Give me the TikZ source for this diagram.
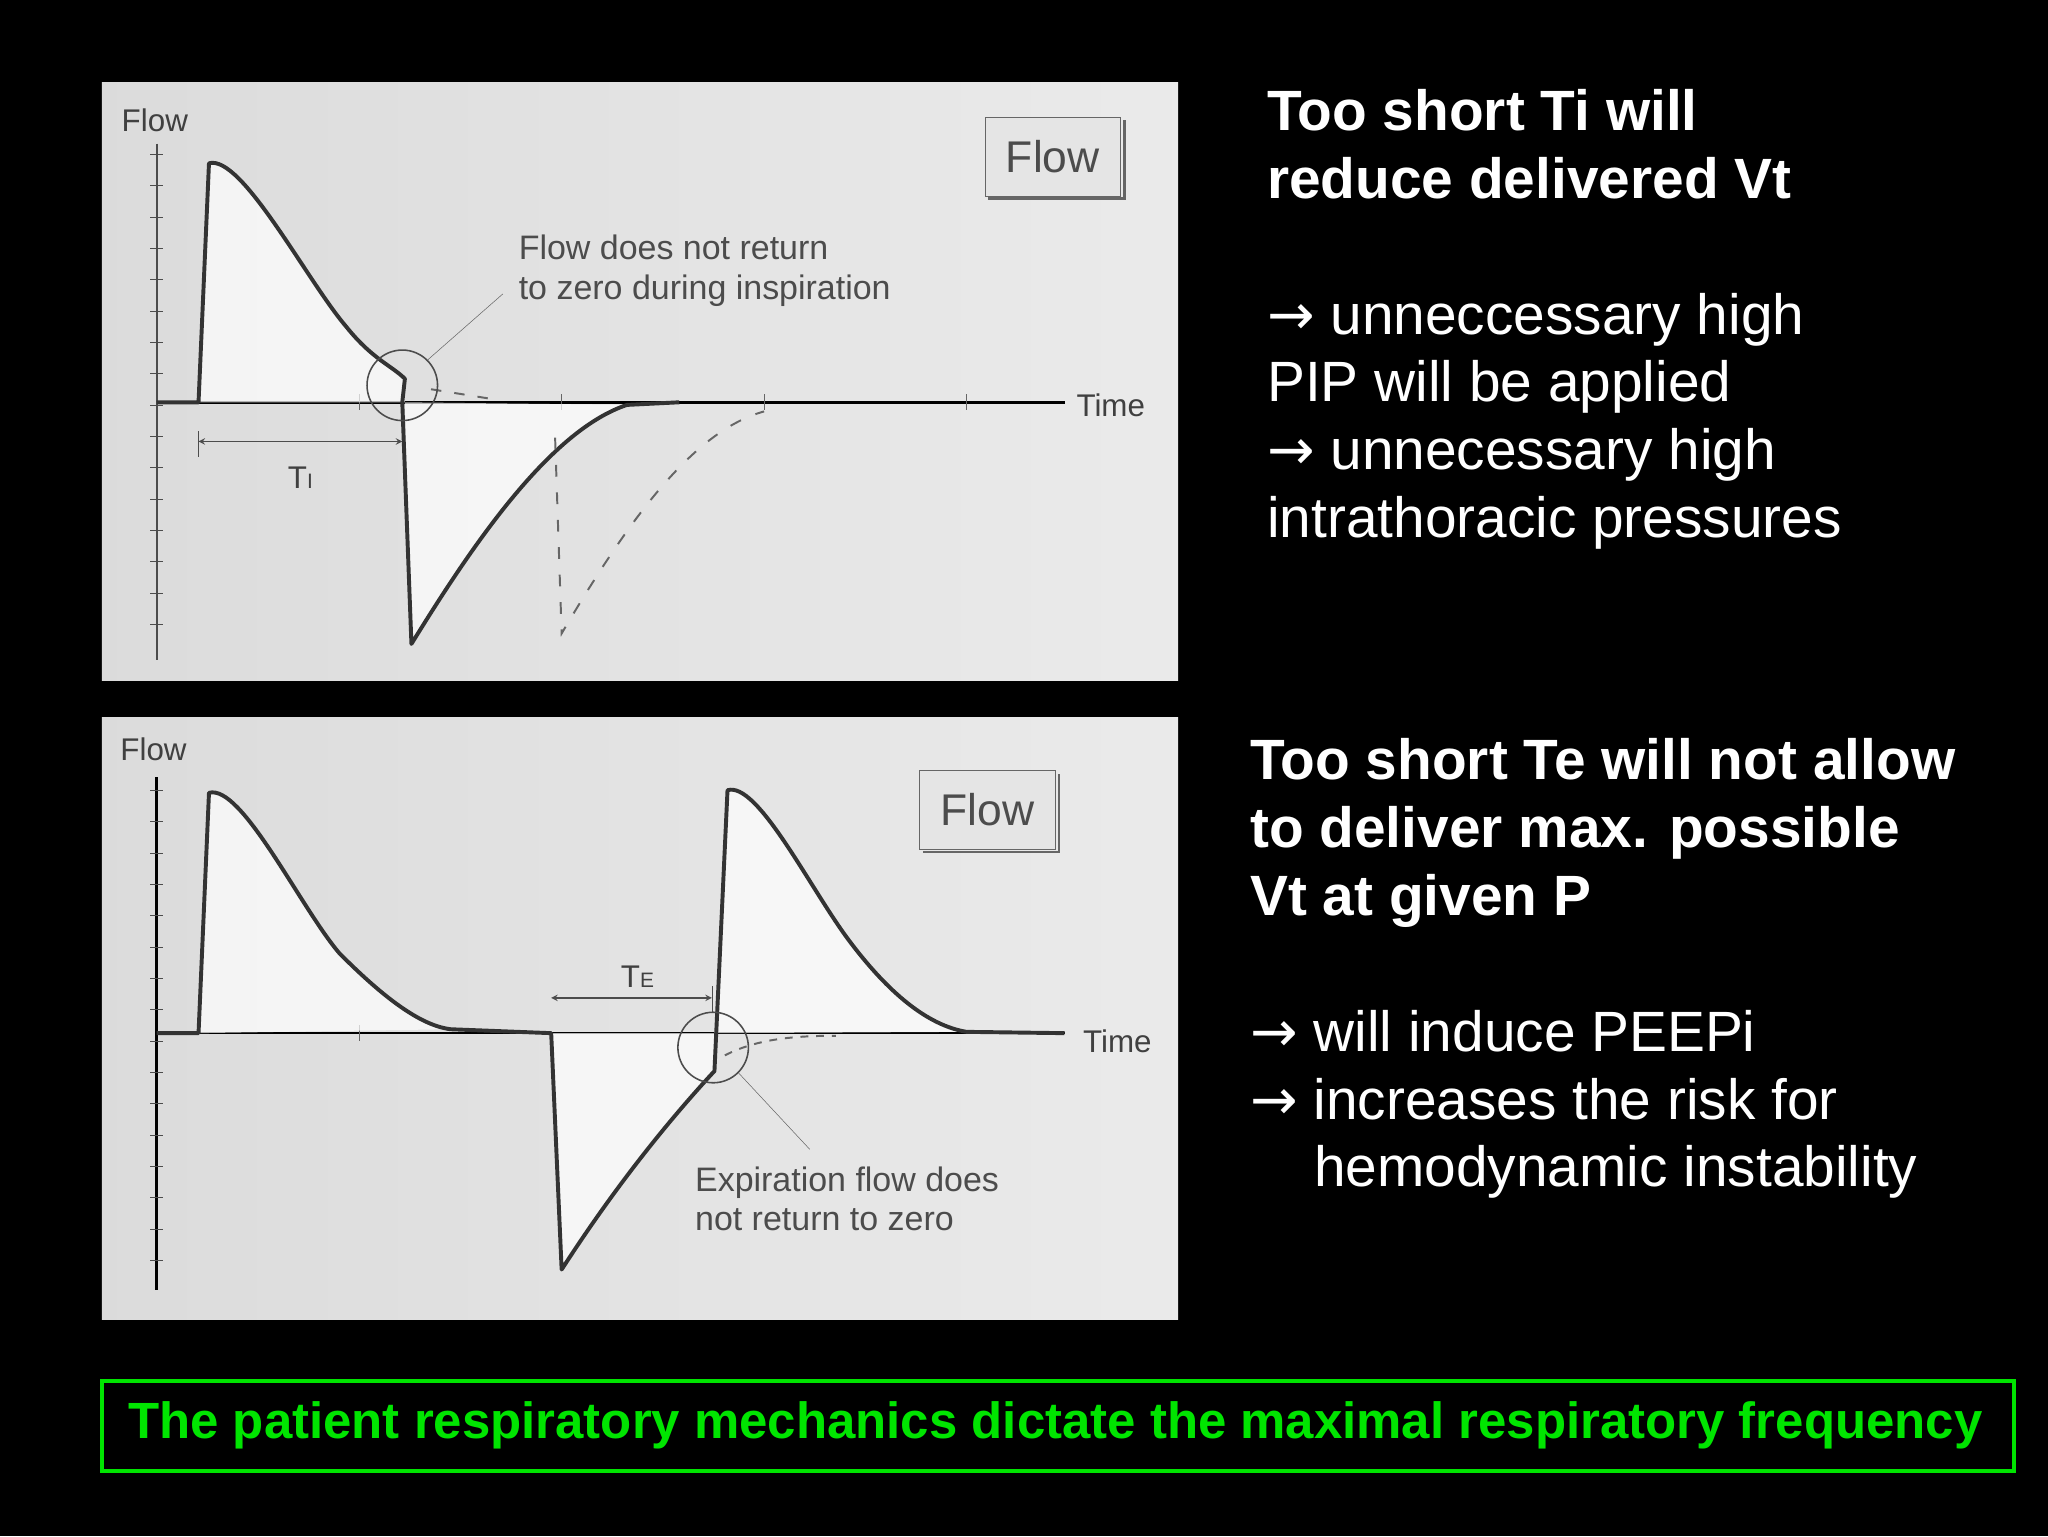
\documentclass[tikz,border=0pt]{standalone}
\usepackage{fontspec}
\setmainfont{Liberation Sans}
\newfontfamily\arr{DejaVu Sans}
\begin{document}
\begin{tikzpicture}[x=1pt,y=-1pt,
  panel/.style={left color=white!86!black, right color=white!92!black},
  curve/.style={line width=3pt, color=black!80, line join=round},
  lbl/.style={font=\fontsize{24}{28}\selectfont, text=black!75, inner sep=0, anchor=west},
  ann/.style={font=\fontsize{26}{30}\selectfont, text=black!70, inner sep=0, anchor=north west, align=left},
  big/.style={font=\bfseries\fontsize{43.5}{52}\selectfont, text=white, inner sep=0, anchor=north west, align=left},
  reg/.style={font=\fontsize{43.5}{52}\selectfont, text=white, inner sep=0, anchor=north west, align=left},
  flowbox/.style={draw=black!60, fill=white!90!black, font=\fontsize{34}{36}\selectfont, text=black!70, minimum width=104pt, minimum height=60pt, inner sep=0}]
\fill[black] (0,0) rectangle (1568,1176);
\useasboundingbox (0,0) rectangle (1568,1176);
% ---------- top panel
\fill[panel] (78,63) rectangle (902,521);
\draw[black!70, line width=1.5pt] (120,110) -- (120,505);
\foreach \y in {118,142,...,500} \draw[black!70] (115,\y) -- (125,\y);
\draw[black, line width=2.5pt] (120,308) -- (815,308);
\foreach \x in {275,430,585,740} \draw[black!60] (\x,302) -- (\x,314);
\fill[white, opacity=.7] (152,308) -- (160,125) .. controls (185,118) and (235,215) .. (265,250) .. controls (285,275) and (300,280) .. (310,290) -- (310,308) -- cycle;
\fill[white, opacity=.7] (310,308) -- (315,493) .. controls (360,420) and (420,330) .. (480,310) -- cycle;
\draw[curve] (120,308) -- (152,308) -- (160,125) .. controls (185,118) and (235,215) .. (265,250) .. controls (285,275) and (300,280) .. (310,290) -- (308,308) -- (315,493) .. controls (360,420) and (420,330) .. (480,310) -- (520,308);
\draw[black!60, line width=1.5pt, dash pattern=on 9pt off 12pt] (425,335) -- (430,485) .. controls (480,400) and (530,330) .. (585,315);
\draw[black!60, line width=1.5pt, dash pattern=on 8pt off 10pt] (330,298) -- (380,306);
\node[draw=black!70, line width=1.2pt, circle, minimum size=54pt, inner sep=0] (c1) at (308,295) {};
\node[lbl] (f1) at (93,92) {Flow};
\node[lbl] (t1) at (824,310) {Time};
\node[flowbox] (fb1) at (806,120) {Flow};
\draw[black!60, line width=2pt] ([xshift=3pt]fb1.south west) ++(0,2) -- ++(104,0) -- ++(0,-60);
\coordinate (a1) at (152,338); \coordinate (a2) at (308,338);
\draw[black!70, line width=1.2pt, <->, >=stealth] (a1) -- (a2);
\draw[black!70] (152,330) -- (152,350);
\node[lbl, anchor=center] (ti) at (230,366) {T\fontsize{16}{16}\selectfont I};
\node[ann] (an1) at (397,180) {Flow does not return\\to zero during inspiration};
\coordinate (l1) at (385,225);
\draw[black!60] (l1) -- (c1.north east);
% ---------- bottom panel
\fill[panel] (78,549) rectangle (902,1010);
\draw[black, line width=2pt] (120,595) -- (120,988);
\foreach \y in {605,629,...,985} \draw[black!70] (115,\y) -- (125,\y);
\draw[black, line width=2pt] (120,791) -- (815,791);
\draw[black!60] (275,785) -- (275,797);
\fill[white, opacity=.7] (152,791) -- (160,607) .. controls (185,600) and (230,695) .. (260,730) .. controls (290,760) and (320,785) .. (345,788) -- cycle;
\fill[white, opacity=.7] (422,791) -- (430,972) .. controls (470,910) and (510,860) .. (547,820) -- (547,791) -- cycle;
\fill[white, opacity=.7] (547,791) -- (557,605) .. controls (580,598) and (620,680) .. (650,720) .. controls (680,760) and (710,785) .. (740,790) -- cycle;
\draw[curve] (120,791) -- (152,791) -- (160,607) .. controls (185,600) and (230,695) .. (260,730) .. controls (290,760) and (320,785) .. (345,788) -- (422,791) -- (430,972) .. controls (470,910) and (510,860) .. (547,820) -- (557,605) .. controls (580,598) and (620,680) .. (650,720) .. controls (680,760) and (710,785) .. (740,790) -- (815,791);
\draw[black!60, line width=1.5pt, dash pattern=on 6pt off 6pt] (555,808) .. controls (580,795) and (610,793) .. (640,793);
\node[draw=black!70, line width=1.2pt, circle, minimum size=54pt, inner sep=0] (c2) at (546,802) {};
\node[lbl] (f2) at (92,574) {Flow};
\node[lbl] (t2) at (829,797) {Time};
\node[flowbox] (fb2) at (756,620) {Flow};
\draw[black!60, line width=2pt] ([xshift=3pt]fb2.south west) ++(0,2) -- ++(104,0) -- ++(0,-60);
\coordinate (b1) at (422,764); \coordinate (b2) at (545,764);
\draw[black!70, line width=1.2pt, <->, >=stealth] (b1) -- (b2);
\draw[black!70] (545,755) -- (545,775);
\node[lbl, anchor=center] (te) at (488,748) {T\fontsize{16}{16}\selectfont E};
\node[ann] (an2) at (532,893) {Expiration flow does\\not return to zero};
\coordinate (l2) at (620,880);
\draw[black!60] (l2) -- (c2.south east);
% ---------- right texts
\node[big] (r1) at (970,68) {Too short Ti will\\reduce delivered Vt};
\node[reg] (r2) at (970,224) {{\arr→} unneccessary high\\PIP will be applied\\{\arr→} unnecessary high\\intrathoracic pressures};
\node[big] (r3) at (957,565) {Too short Te will not allow\\to deliver max. possible\\Vt at given P};
\node[reg] (r4) at (957,773) {{\arr→} will induce PEEPi\\{\arr→} increases the risk for\\\hspace*{49pt}hemodynamic instability};
% ---------- green box
\draw[green!90!black, line width=3pt] (78,1057) rectangle (1542,1126);
\node[font=\bfseries\fontsize{39}{44}\selectfont, text=green!90!black, inner sep=0] (g) at (808,1091) {The patient respiratory mechanics dictate the maximal respiratory frequency};
\end{tikzpicture}
\end{document}
